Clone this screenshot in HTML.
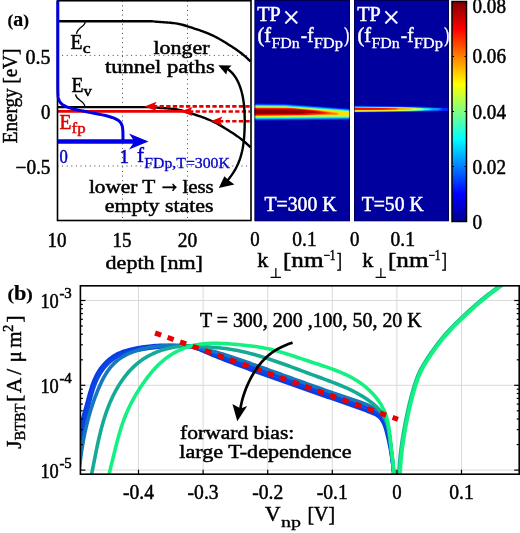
<!DOCTYPE html>
<html><head><meta charset="utf-8"><title>Figure</title>
<style>html,body{margin:0;padding:0;background:#fff}body{width:520px;height:533px;overflow:hidden}</style>
</head><body><svg width="520" height="533" viewBox="0 0 520 533" font-family='"Liberation Serif", "DejaVu Serif", serif' style="display:block"><rect x="0" y="0" width="520" height="533" fill="#fff"/>
<line x1="122.5" y1="0.75" x2="122.5" y2="220.5" stroke="#444" stroke-width="1" stroke-dasharray="1 3.6"/>
<line x1="187.5" y1="0.75" x2="187.5" y2="220.5" stroke="#444" stroke-width="1" stroke-dasharray="1 3.6"/>
<line x1="57.5" y1="55.4" x2="251" y2="55.4" stroke="#444" stroke-width="1" stroke-dasharray="1 3.6"/>
<line x1="57.5" y1="166.0" x2="251" y2="166.0" stroke="#444" stroke-width="1" stroke-dasharray="1 3.6"/>
<path d="M57.50,21.20 L150.00,21.20 L151.70,21.27 L153.41,21.42 L155.11,21.61 L156.81,21.78 L158.52,21.92 L160.22,22.05 L161.92,22.16 L163.63,22.27 L165.33,22.38 L167.03,22.50 L168.74,22.63 L170.44,22.77 L172.14,22.94 L173.85,23.14 L175.55,23.38 L177.25,23.65 L178.96,23.98 L180.66,24.35 L182.36,24.78 L184.07,25.26 L185.77,25.77 L187.47,26.30 L189.18,26.85 L190.88,27.42 L192.58,27.98 L194.29,28.53 L195.99,29.09 L197.69,29.64 L199.40,30.21 L201.10,30.78 L202.81,31.39 L204.51,32.01 L206.21,32.67 L207.92,33.37 L209.62,34.10 L211.32,34.86 L213.03,35.67 L214.73,36.51 L216.43,37.38 L218.14,38.30 L219.84,39.25 L221.54,40.23 L223.25,41.24 L224.95,42.27 L226.65,43.33 L228.36,44.40 L230.06,45.49 L231.76,46.58 L233.47,47.70 L235.17,48.83 L236.87,50.00 L238.58,51.21 L240.28,52.47 L241.98,53.79 L243.69,55.17 L245.39,56.62 L247.09,58.16 L248.80,59.78 L250.50,61.50" fill="none" stroke="#000" stroke-width="2.4"/>
<path d="M57.50,107.10 L150.00,107.10 L151.70,107.17 L153.41,107.32 L155.11,107.51 L156.81,107.68 L158.52,107.82 L160.22,107.95 L161.92,108.06 L163.63,108.17 L165.33,108.28 L167.03,108.40 L168.74,108.53 L170.44,108.67 L172.14,108.84 L173.85,109.04 L175.55,109.28 L177.25,109.55 L178.96,109.88 L180.66,110.25 L182.36,110.68 L184.07,111.16 L185.77,111.67 L187.47,112.20 L189.18,112.75 L190.88,113.32 L192.58,113.88 L194.29,114.43 L195.99,114.99 L197.69,115.54 L199.40,116.11 L201.10,116.68 L202.81,117.29 L204.51,117.91 L206.21,118.57 L207.92,119.27 L209.62,120.00 L211.32,120.76 L213.03,121.57 L214.73,122.41 L216.43,123.28 L218.14,124.20 L219.84,125.15 L221.54,126.13 L223.25,127.14 L224.95,128.17 L226.65,129.23 L228.36,130.30 L230.06,131.39 L231.76,132.48 L233.47,133.60 L235.17,134.73 L236.87,135.90 L238.58,137.11 L240.28,138.37 L241.98,139.69 L243.69,141.07 L245.39,142.52 L247.09,144.06 L248.80,145.68 L250.50,147.40" fill="none" stroke="#000" stroke-width="2.4"/>
<path d="M85.3,21.5 C85.3,27 77.5,27 76.5,33.8" fill="none" stroke="#000" stroke-width="1.3"/>
<path d="M75.5,94.3 C76.5,101 84,100 85,106.8" fill="none" stroke="#000" stroke-width="1.3"/>
<line x1="57.5" y1="111.3" x2="186" y2="111.3" stroke="#e60000" stroke-width="2.8"/>
<line x1="153" y1="106.4" x2="250" y2="106.4" stroke="#e60000" stroke-width="2.6" stroke-dasharray="4.3 2.3"/>
<path d="M144.5,106.4 L156.5,101.80000000000001 L154,106.4 L156.5,111.0 Z" fill="#e60000"/>
<line x1="189" y1="111.5" x2="250" y2="111.5" stroke="#e60000" stroke-width="2.6" stroke-dasharray="4.3 2.3"/>
<path d="M180.5,111.5 L192.5,106.9 L190,111.5 L192.5,116.1 Z" fill="#e60000"/>
<line x1="219" y1="121.2" x2="250" y2="121.2" stroke="#e60000" stroke-width="2.6" stroke-dasharray="4.3 2.3"/>
<path d="M210.5,121.2 L222.5,116.60000000000001 L220,121.2 L222.5,125.8 Z" fill="#e60000"/>
<rect x="57.5" y="0.75" width="193.5" height="219.75" fill="none" stroke="#000" stroke-width="1.6"/>
<path d="M57.80,0.75 L57.80,1.46 L57.80,2.16 L57.80,2.87 L57.80,3.58 L57.80,4.29 L57.80,4.99 L57.80,5.70 L57.80,6.41 L57.80,7.12 L57.80,7.82 L57.80,8.53 L57.80,9.24 L57.80,9.94 L57.80,10.65 L57.80,11.36 L57.80,12.07 L57.80,12.77 L57.80,13.48 L57.80,14.19 L57.80,14.90 L57.80,15.60 L57.80,16.31 L57.80,17.02 L57.80,17.72 L57.80,18.43 L57.80,19.14 L57.80,19.85 L57.80,20.55 L57.80,21.26 L57.80,21.97 L57.80,22.68 L57.80,23.38 L57.80,24.09 L57.80,24.80 L57.80,25.51 L57.80,26.21 L57.80,26.92 L57.80,27.63 L57.80,28.33 L57.80,29.04 L57.80,29.75 L57.80,30.46 L57.80,31.16 L57.80,31.87 L57.80,32.58 L57.80,33.29 L57.80,33.99 L57.80,34.70 L57.80,35.41 L57.80,36.11 L57.80,36.82 L57.80,37.53 L57.80,38.24 L57.80,38.94 L57.80,39.65 L57.80,40.36 L57.80,41.07 L57.80,41.77 L57.80,42.48 L57.80,43.19 L57.80,43.89 L57.80,44.60 L57.80,45.31 L57.80,46.02 L57.80,46.72 L57.80,47.43 L57.80,48.14 L57.80,48.85 L57.80,49.55 L57.80,50.26 L57.80,50.97 L57.80,51.67 L57.80,52.38 L57.80,53.09 L57.80,53.80 L57.80,54.50 L57.80,55.21 L57.80,55.92 L57.80,56.63 L57.80,57.33 L57.80,58.04 L57.80,58.75 L57.80,59.45 L57.80,60.16 L57.80,60.87 L57.80,61.58 L57.80,62.28 L57.80,62.99 L57.80,63.70 L57.80,64.41 L57.80,65.11 L57.80,65.82 L57.80,66.53 L57.80,67.23 L57.80,67.94 L57.80,68.65 L57.80,69.36 L57.80,70.06 L57.80,70.77 L57.80,71.48 L57.80,72.19 L57.80,72.89 L57.80,73.60 L57.80,74.31 L57.80,75.02 L57.80,75.72 L57.80,76.43 L57.80,77.14 L57.80,77.84 L57.80,78.55 L57.80,79.26 L57.80,79.97 L57.80,80.67 L57.80,81.38 L57.80,82.09 L57.80,82.80 L57.81,83.50 L57.81,84.21 L57.81,84.92 L57.81,85.62 L57.81,86.33 L57.82,87.04 L57.82,87.75 L57.83,88.45 L57.84,89.16 L57.84,89.87 L57.86,90.58 L57.87,91.28 L57.89,91.99 L57.91,92.70 L57.94,93.40 L57.97,94.11 L58.02,94.82 L58.07,95.53 L58.14,96.23 L58.23,96.94 L58.34,97.65 L58.47,98.36 L58.64,99.06 L58.86,99.77 L59.12,100.48 L59.45,101.18 L59.86,101.89 L60.37,102.60 L60.99,103.31 L61.76,104.01 L62.70,104.72 L63.84,105.43 L65.22,106.14 L66.85,106.84 L68.78,107.55 L71.03,108.26 L73.59,108.96 L76.48,109.67 L79.67,110.38 L83.09,111.09 L86.70,111.79 L90.41,112.50 L94.11,113.21 L97.72,113.92 L101.15,114.62 L104.33,115.33 L107.21,116.04 L109.78,116.74 L112.02,117.45 L113.95,118.16 L115.59,118.87 L116.96,119.57 L118.10,120.28 L119.04,120.99 L119.81,121.70 L120.43,122.40 L120.94,123.11 L121.35,123.82 L121.68,124.53 L121.94,125.23 L122.16,125.94 L122.33,126.65 L122.46,127.35 L122.57,128.06 L122.66,128.77 L122.73,129.48 L122.78,130.18 L122.83,130.89 L122.86,131.60 L122.89,132.31 L122.91,133.01 L122.93,133.72 L122.94,134.43 L122.96,135.13 L122.97,135.84 L122.97,136.55 L122.98,137.26 L122.98,137.96 L122.99,138.67 L122.99,139.38 L122.99,140.09 L122.99,140.79 L122.99,141.50" fill="none" stroke="#0000e6" stroke-width="3" stroke-linejoin="round"/>
<line x1="57.5" y1="141.5" x2="136" y2="141.5" stroke="#0000e6" stroke-width="4.6"/>
<path d="M148.5,141.5 L129,133.5 L134.5,141.5 L129,149.5 Z" fill="#0000e6"/>
<path d="M226.02,67.95 L227.85,69.17 L229.54,70.49 L231.10,71.91 L232.54,73.42 L233.87,75.01 L235.08,76.67 L236.19,78.40 L237.20,80.19 L238.12,82.03 L238.96,83.91 L239.72,85.83 L240.41,87.78 L241.03,89.75 L241.59,91.74 L242.10,93.74 L242.55,95.76 L242.95,97.79 L243.30,99.83 L243.61,101.89 L243.87,103.95 L244.09,106.02 L244.27,108.10 L244.42,110.19 L244.53,112.28 L244.61,114.37 L244.67,116.47 L244.70,118.57 L244.71,120.67 L244.70,122.77 L244.67,124.87 L244.63,126.97 L244.57,129.06 L244.49,131.15 L244.39,133.24 L244.26,135.32 L244.11,137.39 L243.92,139.46 L243.70,141.52 L243.44,143.57 L243.15,145.61 L242.81,147.64 L242.42,149.66 L241.98,151.67 L241.49,153.66 L240.95,155.65 L240.35,157.61 L239.69,159.57 L238.97,161.50 L238.18,163.42 L237.32,165.32 L236.41,167.20 L235.43,169.05 L234.40,170.87 L233.30,172.66 L232.14,174.42 L230.93,176.13 L229.66,177.81 L228.34,179.44 L226.96,181.03" fill="none" stroke="#000" stroke-width="2.4"/>
<path d="M218.3,65.2 L231.6,65.4 L227.6,69.6 L226.2,74.6 Z" fill="#000"/>
<path d="M218.8,188 L224.4,176.2 L228.6,180.2 L234.4,184.4 Z" fill="#000"/>
<text x="7.5" y="26.4" font-size="20" fill="#000" textLength="21.5" lengthAdjust="spacingAndGlyphs" font-weight="bold" stroke="#000" stroke-width="0.2" ><tspan font-size="17.3">(</tspan>a<tspan font-size="17.3">)</tspan></text>
<text x="50.5" y="63.6" font-size="20.5" fill="#000" text-anchor="end" textLength="25" lengthAdjust="spacingAndGlyphs" stroke="#000" stroke-width="0.5" >0.5</text>
<text x="50.5" y="118.9" font-size="20.5" fill="#000" text-anchor="end" textLength="9.4" lengthAdjust="spacingAndGlyphs" stroke="#000" stroke-width="0.5" >0</text>
<text x="50.5" y="173.6" font-size="20.5" fill="#000" text-anchor="end" textLength="35" lengthAdjust="spacingAndGlyphs" stroke="#000" stroke-width="0.5" >−0.5</text>
<text transform="translate(17.4,96) rotate(-90)" font-size="20.5" text-anchor="middle" textLength="94.5" lengthAdjust="spacingAndGlyphs" stroke="#000" stroke-width="0.45">Energy [eV]</text>
<text x="70.6" y="49" font-size="20" fill="#000" textLength="12" lengthAdjust="spacingAndGlyphs" stroke="#000" stroke-width="0.5" >E</text>
<text x="82.8" y="53" font-size="15.5" fill="#000" textLength="7.8" lengthAdjust="spacingAndGlyphs" stroke="#000" stroke-width="0.5" >c</text>
<text x="71.5" y="91.5" font-size="20" fill="#000" textLength="12" lengthAdjust="spacingAndGlyphs" stroke="#000" stroke-width="0.5" >E</text>
<text x="83.4" y="95.6" font-size="15.5" fill="#000" textLength="8.4" lengthAdjust="spacingAndGlyphs" stroke="#000" stroke-width="0.5" >v</text>
<text x="59.6" y="129" font-size="20" fill="#e00000" textLength="12" lengthAdjust="spacingAndGlyphs" stroke="#e00000" stroke-width="0.5" >E</text>
<text x="71.6" y="133" font-size="15.5" fill="#e00000" textLength="14" lengthAdjust="spacingAndGlyphs" stroke="#e00000" stroke-width="0.5" >fp</text>
<text x="59.6" y="162.5" font-size="19" fill="#0000c8" textLength="8.3" lengthAdjust="spacingAndGlyphs" stroke="#0000c8" stroke-width="0.5" >0</text>
<text x="119.5" y="162.5" font-size="19" fill="#0000c8" stroke="#0000c8" stroke-width="0.5" >1</text>
<text x="137" y="162.3" font-size="20" fill="#0000c8" textLength="7" lengthAdjust="spacingAndGlyphs" stroke="#0000c8" stroke-width="0.5" >f</text>
<text x="144.3" y="167.7" font-size="15.3" fill="#0000c8" textLength="85.5" lengthAdjust="spacingAndGlyphs" stroke="#0000c8" stroke-width="0.3" >FDp,T=300K</text>
<text x="153.5" y="53.5" font-size="19" fill="#000" textLength="56" lengthAdjust="spacingAndGlyphs" stroke="#000" stroke-width="0.5" >longer</text>
<text x="104.9" y="73.1" font-size="19" fill="#000" textLength="109.8" lengthAdjust="spacingAndGlyphs" stroke="#000" stroke-width="0.5" >tunnel paths</text>
<text x="88.9" y="192.5" font-size="19" fill="#000" textLength="66.5" lengthAdjust="spacingAndGlyphs" stroke="#000" stroke-width="0.5" >lower T</text>
<text x="158" y="192.2" font-size="29" fill="#000" textLength="23" lengthAdjust="spacingAndGlyphs" stroke="#000" stroke-width="0.6" >→</text>
<text x="182.4" y="192.5" font-size="19" fill="#000" textLength="31.3" lengthAdjust="spacingAndGlyphs" stroke="#000" stroke-width="0.5" >less</text>
<text x="104.8" y="212.3" font-size="19" fill="#000" textLength="108.7" lengthAdjust="spacingAndGlyphs" stroke="#000" stroke-width="0.5" >empty states</text>
<text x="56.9" y="246.7" font-size="20.5" fill="#000" text-anchor="middle" textLength="19" lengthAdjust="spacingAndGlyphs" stroke="#000" stroke-width="0.5" >10</text>
<text x="121.9" y="246.7" font-size="20.5" fill="#000" text-anchor="middle" textLength="19" lengthAdjust="spacingAndGlyphs" stroke="#000" stroke-width="0.5" >15</text>
<text x="187.4" y="246.7" font-size="20.5" fill="#000" text-anchor="middle" textLength="19.5" lengthAdjust="spacingAndGlyphs" stroke="#000" stroke-width="0.5" >20</text>
<text x="105.6" y="268.7" font-size="19.5" fill="#000" textLength="97.3" lengthAdjust="spacingAndGlyphs" stroke="#000" stroke-width="0.5" >depth [nm]</text>
<defs>
<linearGradient id="jet" x1="0" y1="1" x2="0" y2="0">
<stop offset="0" stop-color="#000094"/>
<stop offset="0.125" stop-color="#0000ff"/>
<stop offset="0.375" stop-color="#00ffff"/>
<stop offset="0.625" stop-color="#ffff00"/>
<stop offset="0.875" stop-color="#ff0000"/>
<stop offset="1" stop-color="#800000"/>
</linearGradient>
<filter id="b1" x="-5%" y="-50%" width="110%" height="200%"><feGaussianBlur stdDeviation="1.3 0.6"/></filter>
<filter id="b2" x="-5%" y="-50%" width="110%" height="200%"><feGaussianBlur stdDeviation="1.5 0.6"/></filter>
<clipPath id="c1"><rect x="254.5" y="0" width="95.5" height="221"/></clipPath>
<clipPath id="c2"><rect x="354" y="0" width="95" height="221"/></clipPath>
</defs>
<rect x="254.5" y="0" width="95.5" height="221" fill="#00009e"/>
<rect x="354" y="0" width="95" height="221" fill="#00009e"/>
<g clip-path="url(#c1)"><g filter="url(#b1)">
<path d="M250.00,103.60 L285.00,103.90 L320.00,106.40 L352.00,108.90 L352.00,119.80 L250.00,120.60 Z" fill="#0030ff"/>
<path d="M250.00,104.80 L285.00,105.10 L320.00,107.60 L352.00,110.10 L352.00,118.60 L250.00,119.20 Z" fill="#00c0ff"/>
<path d="M250.00,105.60 L285.00,105.90 L320.00,108.40 L352.00,110.90 L352.00,117.50 L250.00,118.20 Z" fill="#40ffc0"/>
<path d="M250.00,106.30 L285.00,106.60 L320.00,109.10 L352.00,111.60 L352.00,116.50 L250.00,117.30 Z" fill="#c0ff40"/>
<path d="M250.00,106.90 L287.00,107.20 L321.00,109.90 L350.00,112.20 L350.00,115.50 L250.00,116.50 Z" fill="#ffe000"/>
<path d="M250.00,107.40 L290.00,107.80 L320.00,110.40 L338.00,112.90 L338.00,114.70 L250.00,115.90 Z" fill="#ff8000"/>
<path d="M250.00,107.90 L292.00,108.30 L318.00,110.80 L331.00,113.30 L306.00,115.00 L250.00,115.40 Z" fill="#ff1000"/>
<path d="M250.00,109.00 L298.00,109.50 L322.00,112.30 L298.00,114.10 L250.00,114.40 Z" fill="#a80000"/>
<path d="M250.00,110.00 L285.00,110.40 L306.00,112.20 L285.00,113.30 L250.00,113.50 Z" fill="#860000"/>
</g></g>
<g clip-path="url(#c2)"><g filter="url(#b2)">
<path d="M350.00,105.80 L420.00,106.50 L449.00,108.00 L449.00,110.70 L420.00,111.80 L350.00,112.40 Z" fill="#0028ff"/>
<path d="M350.00,106.40 L410.00,106.90 L440.00,108.30 L440.00,110.30 L410.00,111.40 L350.00,112.00 Z" fill="#00a0ff"/>
<path d="M350.00,106.80 L405.00,107.20 L430.00,108.50 L430.00,110.10 L405.00,111.10 L350.00,111.70 Z" fill="#20ffd0"/>
<path d="M350.00,107.10 L398.00,107.40 L422.00,108.60 L422.00,110.20 L398.00,111.00 L350.00,111.50 Z" fill="#e8ff40"/>
<path d="M350.00,107.40 L392.00,107.70 L412.00,108.60 L412.00,109.60 L392.00,110.20 L350.00,110.40 Z" fill="#ffb000"/>
<path d="M350.00,107.60 L382.00,107.90 L398.00,108.60 L398.00,109.30 L382.00,109.80 L350.00,110.00 Z" fill="#f00800"/>
</g></g>
<rect x="255" y="0.5" width="94.5" height="220.5" fill="none" stroke="#000020" stroke-width="1" opacity="0.6"/>
<rect x="354.5" y="0.5" width="94" height="220.5" fill="none" stroke="#000020" stroke-width="1" opacity="0.6"/>
<text x="257.3" y="21.3" font-size="21" fill="#fff" textLength="23.5" lengthAdjust="spacingAndGlyphs" stroke="#fff" stroke-width="0.5" >TP</text>
<text x="282.5" y="27.6" font-size="31" fill="#fff" stroke="#fff" stroke-width="0.3" >×</text>
<text x="257.4" y="42" font-size="21" fill="#fff" textLength="13.6" lengthAdjust="spacingAndGlyphs" stroke="#fff" stroke-width="0.5" >(f</text>
<text x="271.4" y="48.2" font-size="15" fill="#fff" textLength="28.3" lengthAdjust="spacingAndGlyphs" stroke="#fff" stroke-width="0.3" >FDn</text>
<text x="300.8" y="42" font-size="21" fill="#fff" textLength="12.7" lengthAdjust="spacingAndGlyphs" stroke="#fff" stroke-width="0.5" >-f</text>
<text x="313.7" y="48.2" font-size="15" fill="#fff" textLength="29.3" lengthAdjust="spacingAndGlyphs" stroke="#fff" stroke-width="0.3" >FDp</text>
<text x="344.3" y="42" font-size="21" fill="#fff" textLength="5" lengthAdjust="spacingAndGlyphs" stroke="#fff" stroke-width="0.5" >)</text>
<text x="357.3" y="21.3" font-size="21" fill="#fff" textLength="23.5" lengthAdjust="spacingAndGlyphs" stroke="#fff" stroke-width="0.5" >TP</text>
<text x="382.5" y="27.6" font-size="31" fill="#fff" stroke="#fff" stroke-width="0.3" >×</text>
<text x="357.4" y="42" font-size="21" fill="#fff" textLength="13.6" lengthAdjust="spacingAndGlyphs" stroke="#fff" stroke-width="0.5" >(f</text>
<text x="371.4" y="48.2" font-size="15" fill="#fff" textLength="28.3" lengthAdjust="spacingAndGlyphs" stroke="#fff" stroke-width="0.3" >FDn</text>
<text x="400.8" y="42" font-size="21" fill="#fff" textLength="12.7" lengthAdjust="spacingAndGlyphs" stroke="#fff" stroke-width="0.5" >-f</text>
<text x="413.7" y="48.2" font-size="15" fill="#fff" textLength="29.3" lengthAdjust="spacingAndGlyphs" stroke="#fff" stroke-width="0.3" >FDp</text>
<text x="444.3" y="42" font-size="21" fill="#fff" textLength="5" lengthAdjust="spacingAndGlyphs" stroke="#fff" stroke-width="0.5" >)</text>
<text x="264.6" y="211" font-size="20" fill="#fff" textLength="71.8" lengthAdjust="spacingAndGlyphs" stroke="#fff" stroke-width="0.5" >T=300 K</text>
<text x="361.7" y="211" font-size="20" fill="#fff" textLength="62" lengthAdjust="spacingAndGlyphs" stroke="#fff" stroke-width="0.5" >T=50 K</text>
<text x="254.9" y="246.2" font-size="20.5" fill="#000" text-anchor="middle" textLength="9.4" lengthAdjust="spacingAndGlyphs" stroke="#000" stroke-width="0.5" >0</text>
<text x="304.5" y="246.2" font-size="20.5" fill="#000" text-anchor="middle" textLength="24.3" lengthAdjust="spacingAndGlyphs" stroke="#000" stroke-width="0.5" >0.1</text>
<text x="354.6" y="246.2" font-size="20.5" fill="#000" text-anchor="middle" textLength="9.4" lengthAdjust="spacingAndGlyphs" stroke="#000" stroke-width="0.5" >0</text>
<text x="402.7" y="246.2" font-size="20.5" fill="#000" text-anchor="middle" textLength="24.3" lengthAdjust="spacingAndGlyphs" stroke="#000" stroke-width="0.5" >0.1</text>
<text x="257.3" y="266.7" font-size="20" fill="#000" textLength="11" lengthAdjust="spacingAndGlyphs" stroke="#000" stroke-width="0.5" >k</text>
<text x="269" y="277.5" font-size="14" fill="#000" stroke="#000" stroke-width="0.2" >⊥</text>
<text x="283" y="266.7" font-size="20" fill="#000" textLength="40.5" lengthAdjust="spacingAndGlyphs" stroke="#000" stroke-width="0.5" >[nm</text>
<text x="323.5" y="259.5" font-size="14.5" fill="#000" textLength="12" lengthAdjust="spacingAndGlyphs" stroke="#000" stroke-width="0.5" >−1</text>
<text x="336.8" y="266.7" font-size="20" fill="#000" textLength="5.2" lengthAdjust="spacingAndGlyphs" stroke="#000" stroke-width="0.5" >]</text>
<text x="362.3" y="266.7" font-size="20" fill="#000" textLength="11" lengthAdjust="spacingAndGlyphs" stroke="#000" stroke-width="0.5" >k</text>
<text x="374" y="277.5" font-size="14" fill="#000" stroke="#000" stroke-width="0.2" >⊥</text>
<text x="388" y="266.7" font-size="20" fill="#000" textLength="40.5" lengthAdjust="spacingAndGlyphs" stroke="#000" stroke-width="0.5" >[nm</text>
<text x="428.5" y="259.5" font-size="14.5" fill="#000" textLength="12" lengthAdjust="spacingAndGlyphs" stroke="#000" stroke-width="0.5" >−1</text>
<text x="441.8" y="266.7" font-size="20" fill="#000" textLength="5.2" lengthAdjust="spacingAndGlyphs" stroke="#000" stroke-width="0.5" >]</text>
<rect x="452" y="1.5" width="14.5" height="220" fill="url(#jet)" stroke="#000" stroke-width="1.5"/>
<line x1="452" y1="56.5" x2="454" y2="56.5" stroke="#000" stroke-width="1"/><line x1="464.5" y1="56.5" x2="466.5" y2="56.5" stroke="#000" stroke-width="1"/>
<line x1="452" y1="111.5" x2="454" y2="111.5" stroke="#000" stroke-width="1"/><line x1="464.5" y1="111.5" x2="466.5" y2="111.5" stroke="#000" stroke-width="1"/>
<line x1="452" y1="166.5" x2="454" y2="166.5" stroke="#000" stroke-width="1"/><line x1="464.5" y1="166.5" x2="466.5" y2="166.5" stroke="#000" stroke-width="1"/>
<text x="472.5" y="13.3" font-size="20.5" fill="#000" textLength="33.5" lengthAdjust="spacingAndGlyphs" stroke="#000" stroke-width="0.5" >0.08</text>
<text x="472.5" y="63.3" font-size="20.5" fill="#000" textLength="33.5" lengthAdjust="spacingAndGlyphs" stroke="#000" stroke-width="0.5" >0.06</text>
<text x="472.5" y="119.4" font-size="20.5" fill="#000" textLength="33.5" lengthAdjust="spacingAndGlyphs" stroke="#000" stroke-width="0.5" >0.04</text>
<text x="472.5" y="174.3" font-size="20.5" fill="#000" textLength="33.5" lengthAdjust="spacingAndGlyphs" stroke="#000" stroke-width="0.5" >0.02</text>
<text x="472.5" y="228.8" font-size="20.5" fill="#000" textLength="9.6" lengthAdjust="spacingAndGlyphs" stroke="#000" stroke-width="0.5" >0</text>
<line x1="138.5" y1="285.8" x2="138.5" y2="474.2" stroke="#dadada" stroke-width="1"/>
<line x1="203.1" y1="285.8" x2="203.1" y2="474.2" stroke="#dadada" stroke-width="1"/>
<line x1="267.7" y1="285.8" x2="267.7" y2="474.2" stroke="#dadada" stroke-width="1"/>
<line x1="332.3" y1="285.8" x2="332.3" y2="474.2" stroke="#dadada" stroke-width="1"/>
<line x1="396.9" y1="285.8" x2="396.9" y2="474.2" stroke="#dadada" stroke-width="1"/>
<line x1="461.5" y1="285.8" x2="461.5" y2="474.2" stroke="#dadada" stroke-width="1"/>
<line x1="80.4" y1="300.5" x2="519.2" y2="300.5" stroke="#dadada" stroke-width="1"/>
<line x1="80.4" y1="385.3" x2="519.2" y2="385.3" stroke="#dadada" stroke-width="1"/>
<line x1="80.4" y1="470.1" x2="519.2" y2="470.1" stroke="#dadada" stroke-width="1"/>
<clipPath id="cb"><rect x="80.4" y="285.8" width="438.80000000000007" height="188.39999999999998"/></clipPath>
<g clip-path="url(#cb)" fill="none" stroke-width="3.6" stroke-linecap="round" stroke-linejoin="round">
<path d="M77.86,448.84 L78.22,446.65 L78.54,444.45 L78.84,442.22 L79.12,439.99 L79.40,437.75 L79.68,435.51 L79.97,433.27 L80.28,431.03 L80.62,428.81 L80.99,426.59 L81.41,424.40 L81.88,422.22 L82.39,420.05 L82.94,417.90 L83.51,415.75 L84.11,413.61 L84.71,411.46 L85.32,409.32 L85.92,407.16 L86.52,404.99 L87.10,402.81 L87.68,400.62 L88.26,398.43 L88.85,396.24 L89.46,394.06 L90.08,391.88 L90.73,389.71 L91.42,387.56 L92.14,385.43 L92.90,383.31 L93.71,381.23 L94.58,379.17 L95.51,377.14 L96.51,375.15 L97.58,373.19 L98.73,371.28 L99.96,369.42 L101.27,367.60 L102.67,365.85 L104.15,364.15 L105.70,362.52 L107.32,360.97 L109.01,359.49 L110.77,358.09 L112.59,356.79 L114.47,355.58 L116.41,354.47 L118.40,353.47 L120.43,352.56 L122.51,351.75 L124.62,351.02 L126.77,350.36 L128.94,349.76 L131.12,349.22 L133.32,348.73 L135.53,348.27 L137.74,347.85 L139.95,347.46 L142.17,347.10 L144.39,346.78 L146.61,346.48 L148.84,346.22 L151.06,345.99 L153.29,345.79 L155.53,345.62 L157.76,345.48 L160.00,345.37 L162.24,345.28 L164.48,345.23 L166.72,345.20 L168.96,345.21 L171.20,345.24 L173.44,345.29 L175.69,345.38 L177.93,345.48 L180.17,345.62 L182.42,345.78 L184.66,345.96 L186.90,346.18 L189.13,346.45 L191.34,346.81 L193.50,347.31 L195.63,347.96 L197.72,348.73 L199.78,349.59 L201.83,350.49 L203.88,351.41 L205.94,352.33 L208.00,353.22 L210.06,354.10 L212.13,354.97 L214.21,355.82 L216.29,356.66 L218.37,357.50 L220.46,358.32 L222.55,359.14 L224.64,359.95 L226.73,360.76 L228.83,361.56 L230.92,362.36 L233.02,363.15 L235.11,363.95 L237.21,364.74 L239.31,365.53 L241.41,366.32 L243.51,367.10 L245.61,367.88 L247.71,368.66 L249.81,369.44 L251.91,370.22 L254.01,370.99 L256.12,371.76 L258.22,372.53 L260.33,373.30 L262.43,374.06 L264.54,374.83 L266.64,375.59 L268.75,376.35 L270.86,377.11 L272.97,377.86 L275.08,378.62 L277.19,379.37 L279.30,380.13 L281.41,380.88 L283.52,381.63 L285.63,382.38 L287.74,383.12 L289.85,383.87 L291.97,384.62 L294.08,385.36 L296.20,386.10 L298.31,386.85 L300.43,387.59 L302.54,388.33 L304.66,389.07 L306.77,389.81 L308.89,390.55 L311.01,391.29 L313.13,392.03 L315.24,392.76 L317.36,393.50 L319.48,394.24 L321.60,394.98 L323.72,395.71 L325.84,396.45 L327.96,397.19 L330.08,397.92 L332.20,398.66 L334.32,399.40 L336.45,400.13 L338.57,400.87 L340.69,401.61 L342.81,402.35 L344.94,403.09 L347.06,403.83 L349.18,404.57 L351.31,405.31 L353.43,406.05 L355.55,406.80 L357.67,407.55 L359.78,408.31 L361.89,409.08 L364.00,409.86 L366.09,410.66 L368.19,411.46 L370.27,412.28 L372.35,413.12 L374.40,413.99 L376.36,414.97 L378.15,416.12 L379.73,417.51 L381.11,419.10 L382.31,420.88 L383.36,422.81 L384.27,424.86 L385.07,427.00 L385.78,429.21 L386.41,431.46 L386.99,433.72 L387.55,435.97 L388.07,438.19 L388.58,440.40 L389.05,442.60 L389.51,444.78 L389.95,446.96 L390.36,449.14 L390.76,451.32 L391.14,453.50 L391.51,455.69 L391.86,457.89 L392.19,460.10 L392.51,462.32 L392.80,464.56 L393.07,466.79 L393.30,469.04 L393.50,471.28 L393.65,473.52 L393.75,475.76 L393.80,478.00" stroke="#0a3ce6"/>
<path d="M80.22,449.19 L80.38,446.91 L80.59,444.65 L80.84,442.40 L81.12,440.17 L81.44,437.95 L81.79,435.75 L82.17,433.55 L82.58,431.37 L83.01,429.19 L83.46,427.02 L83.94,424.85 L84.43,422.69 L84.94,420.53 L85.46,418.36 L86.00,416.20 L86.53,414.04 L87.08,411.87 L87.63,409.69 L88.18,407.51 L88.72,405.32 L89.27,403.12 L89.83,400.93 L90.40,398.73 L90.99,396.54 L91.60,394.35 L92.24,392.18 L92.91,390.02 L93.62,387.88 L94.37,385.75 L95.17,383.66 L96.02,381.59 L96.93,379.55 L97.90,377.54 L98.94,375.58 L100.05,373.65 L101.23,371.76 L102.50,369.93 L103.84,368.15 L105.27,366.42 L106.77,364.77 L108.35,363.18 L110.00,361.68 L111.72,360.26 L113.50,358.94 L115.36,357.71 L117.28,356.59 L119.27,355.57 L121.31,354.67 L123.41,353.86 L125.54,353.13 L127.70,352.48 L129.89,351.90 L132.09,351.37 L134.30,350.88 L136.50,350.43 L138.71,350.00 L140.91,349.61 L143.11,349.24 L145.31,348.90 L147.51,348.58 L149.71,348.27 L151.91,347.99 L154.12,347.72 L156.33,347.46 L158.55,347.22 L160.78,346.98 L163.01,346.76 L165.25,346.53 L167.50,346.32 L169.75,346.11 L172.01,345.94 L174.27,345.79 L176.53,345.69 L178.78,345.64 L181.03,345.65 L183.26,345.74 L185.48,345.90 L187.69,346.15 L189.88,346.48 L192.06,346.89 L194.22,347.36 L196.38,347.89 L198.52,348.48 L200.66,349.11 L202.79,349.79 L204.91,350.50 L207.04,351.23 L209.15,351.98 L211.27,352.75 L213.38,353.52 L215.50,354.30 L217.62,355.06 L219.73,355.82 L221.86,356.57 L223.98,357.32 L226.10,358.06 L228.22,358.79 L230.35,359.53 L232.47,360.26 L234.59,360.99 L236.71,361.72 L238.83,362.45 L240.95,363.18 L243.07,363.92 L245.19,364.65 L247.30,365.39 L249.41,366.13 L251.52,366.88 L253.64,367.62 L255.74,368.37 L257.85,369.12 L259.96,369.87 L262.07,370.62 L264.17,371.38 L266.28,372.13 L268.38,372.89 L270.48,373.64 L272.59,374.40 L274.69,375.16 L276.79,375.92 L278.89,376.68 L280.99,377.44 L283.10,378.20 L285.20,378.96 L287.30,379.72 L289.40,380.48 L291.50,381.24 L293.60,382.00 L295.71,382.76 L297.81,383.52 L299.91,384.28 L302.02,385.04 L304.12,385.80 L306.23,386.56 L308.33,387.31 L310.44,388.07 L312.55,388.83 L314.66,389.58 L316.77,390.33 L318.88,391.08 L320.99,391.83 L323.10,392.58 L325.22,393.32 L327.34,394.07 L329.45,394.81 L331.57,395.55 L333.70,396.29 L335.82,397.02 L337.95,397.75 L340.07,398.48 L342.20,399.21 L344.34,399.94 L346.47,400.66 L348.61,401.38 L350.75,402.10 L352.89,402.81 L355.03,403.52 L357.18,404.22 L359.33,404.93 L361.48,405.63 L363.63,406.33 L365.77,407.06 L367.89,407.81 L369.97,408.62 L372.02,409.49 L374.02,410.43 L375.95,411.47 L377.82,412.62 L379.58,413.89 L381.18,415.31 L382.61,416.90 L383.84,418.64 L384.92,420.52 L385.84,422.51 L386.64,424.60 L387.32,426.75 L387.91,428.96 L388.42,431.19 L388.88,433.43 L389.29,435.67 L389.65,437.91 L389.98,440.15 L390.29,442.38 L390.57,444.62 L390.83,446.85 L391.08,449.08 L391.32,451.30 L391.57,453.53 L391.82,455.75 L392.08,457.96 L392.36,460.17 L392.65,462.39 L392.93,464.60 L393.20,466.81 L393.44,469.03 L393.64,471.26 L393.79,473.49 L393.88,475.74 L393.89,478.01" stroke="#0a46e4"/>
<path d="M79.08,472.02 L79.31,469.68 L79.55,467.35 L79.80,465.01 L80.07,462.68 L80.35,460.35 L80.65,458.02 L80.96,455.70 L81.28,453.38 L81.62,451.06 L81.98,448.75 L82.35,446.44 L82.74,444.14 L83.14,441.83 L83.57,439.53 L84.01,437.24 L84.46,434.95 L84.94,432.66 L85.43,430.38 L85.94,428.10 L86.47,425.83 L87.02,423.56 L87.60,421.30 L88.19,419.04 L88.80,416.78 L89.43,414.53 L90.08,412.29 L90.76,410.05 L91.45,407.82 L92.17,405.59 L92.92,403.37 L93.68,401.15 L94.47,398.94 L95.28,396.73 L96.12,394.53 L96.98,392.34 L97.86,390.15 L98.77,387.97 L99.71,385.81 L100.69,383.65 L101.70,381.52 L102.75,379.42 L103.85,377.35 L105.00,375.32 L106.21,373.33 L107.48,371.39 L108.82,369.50 L110.22,367.68 L111.70,365.92 L113.26,364.23 L114.90,362.62 L116.63,361.09 L118.45,359.64 L120.35,358.28 L122.33,357.01 L124.38,355.82 L126.48,354.71 L128.63,353.67 L130.82,352.71 L133.04,351.83 L135.27,351.01 L137.52,350.27 L139.77,349.59 L142.04,348.97 L144.31,348.42 L146.60,347.92 L148.89,347.49 L151.18,347.10 L153.49,346.77 L155.80,346.48 L158.12,346.24 L160.44,346.05 L162.77,345.90 L165.10,345.78 L167.43,345.71 L169.77,345.66 L172.12,345.65 L174.46,345.68 L176.80,345.73 L179.15,345.83 L181.49,345.95 L183.83,346.12 L186.16,346.32 L188.49,346.55 L190.82,346.83 L193.13,347.14 L195.45,347.49 L197.75,347.88 L200.04,348.30 L202.33,348.76 L204.61,349.24 L206.89,349.76 L209.16,350.31 L211.42,350.88 L213.68,351.48 L215.94,352.10 L218.19,352.74 L220.43,353.41 L222.67,354.09 L224.91,354.78 L227.14,355.50 L229.37,356.22 L231.60,356.95 L233.82,357.70 L236.04,358.45 L238.26,359.21 L240.48,359.97 L242.70,360.74 L244.91,361.51 L247.12,362.28 L249.34,363.05 L251.55,363.83 L253.76,364.60 L255.97,365.38 L258.17,366.17 L260.38,366.95 L262.59,367.73 L264.79,368.52 L266.99,369.31 L269.20,370.10 L271.40,370.89 L273.60,371.68 L275.81,372.47 L278.01,373.27 L280.21,374.06 L282.41,374.85 L284.61,375.65 L286.81,376.44 L289.01,377.24 L291.21,378.03 L293.41,378.83 L295.61,379.62 L297.81,380.41 L300.01,381.21 L302.22,382.00 L304.42,382.79 L306.62,383.58 L308.82,384.37 L311.03,385.15 L313.23,385.94 L315.44,386.73 L317.64,387.51 L319.85,388.29 L322.06,389.07 L324.27,389.84 L326.48,390.62 L328.69,391.39 L330.90,392.16 L333.11,392.93 L335.33,393.69 L337.54,394.45 L339.76,395.21 L341.98,395.97 L344.20,396.72 L346.42,397.47 L348.65,398.21 L350.87,398.95 L353.10,399.70 L355.32,400.45 L357.54,401.22 L359.76,402.00 L361.96,402.81 L364.16,403.65 L366.34,404.53 L368.51,405.44 L370.67,406.40 L372.81,407.41 L374.91,408.49 L376.93,409.67 L378.82,410.98 L380.53,412.47 L382.04,414.15 L383.36,415.99 L384.52,417.96 L385.52,420.05 L386.38,422.24 L387.13,424.49 L387.77,426.78 L388.32,429.09 L388.81,431.41 L389.22,433.74 L389.59,436.07 L389.90,438.40 L390.18,440.74 L390.43,443.08 L390.65,445.41 L390.87,447.75 L391.08,450.08 L391.30,452.42 L391.53,454.74 L391.79,457.07 L392.07,459.38 L392.39,461.70 L392.71,464.01 L393.02,466.32 L393.31,468.64 L393.55,470.96 L393.74,473.29 L393.85,475.64 L393.87,478.01" stroke="#1478c0"/>
<path d="M90.78,477.98 L91.26,475.73 L91.73,473.48 L92.20,471.22 L92.66,468.97 L93.11,466.72 L93.56,464.46 L94.00,462.21 L94.45,459.96 L94.89,457.70 L95.34,455.45 L95.79,453.20 L96.24,450.95 L96.70,448.71 L97.17,446.46 L97.65,444.22 L98.13,441.98 L98.62,439.75 L99.13,437.52 L99.65,435.29 L100.19,433.07 L100.74,430.85 L101.31,428.64 L101.90,426.43 L102.51,424.23 L103.14,422.04 L103.79,419.85 L104.46,417.67 L105.17,415.50 L105.89,413.33 L106.65,411.18 L107.44,409.03 L108.25,406.89 L109.10,404.76 L109.98,402.64 L110.90,400.52 L111.85,398.42 L112.84,396.33 L113.87,394.26 L114.93,392.20 L116.04,390.16 L117.18,388.14 L118.36,386.14 L119.58,384.17 L120.84,382.22 L122.14,380.31 L123.48,378.43 L124.86,376.59 L126.28,374.78 L127.75,373.02 L129.25,371.29 L130.81,369.62 L132.40,367.98 L134.04,366.40 L135.72,364.87 L137.45,363.40 L139.22,361.98 L141.04,360.62 L142.90,359.33 L144.80,358.09 L146.75,356.92 L148.74,355.80 L150.76,354.75 L152.81,353.75 L154.90,352.81 L157.02,351.94 L159.16,351.12 L161.34,350.36 L163.53,349.66 L165.74,349.02 L167.98,348.44 L170.23,347.91 L172.49,347.44 L174.77,347.03 L177.06,346.67 L179.36,346.37 L181.66,346.13 L183.96,345.95 L186.27,345.82 L188.57,345.74 L190.87,345.72 L193.17,345.76 L195.46,345.85 L197.74,345.98 L200.02,346.15 L202.29,346.35 L204.56,346.56 L206.84,346.78 L209.11,347.01 L211.39,347.22 L213.66,347.42 L215.94,347.62 L218.22,347.82 L220.51,348.04 L222.79,348.27 L225.06,348.54 L227.34,348.83 L229.61,349.16 L231.88,349.52 L234.15,349.91 L236.41,350.33 L238.66,350.78 L240.92,351.25 L243.16,351.75 L245.40,352.27 L247.64,352.81 L249.87,353.38 L252.09,353.96 L254.31,354.57 L256.52,355.19 L258.72,355.83 L260.92,356.48 L263.10,357.15 L265.29,357.83 L267.46,358.53 L269.64,359.24 L271.80,359.96 L273.97,360.69 L276.13,361.43 L278.28,362.18 L280.44,362.94 L282.59,363.71 L284.74,364.48 L286.88,365.27 L289.03,366.05 L291.17,366.85 L293.32,367.64 L295.46,368.44 L297.60,369.25 L299.75,370.05 L301.90,370.86 L304.04,371.66 L306.19,372.47 L308.34,373.27 L310.50,374.08 L312.65,374.88 L314.82,375.68 L316.98,376.47 L319.15,377.26 L321.32,378.05 L323.49,378.85 L325.65,379.64 L327.82,380.45 L329.98,381.25 L332.14,382.07 L334.30,382.90 L336.44,383.75 L338.58,384.61 L340.71,385.48 L342.83,386.38 L344.94,387.29 L347.03,388.23 L349.11,389.20 L351.18,390.19 L353.23,391.21 L355.26,392.26 L357.27,393.34 L359.27,394.46 L361.24,395.61 L363.19,396.80 L365.11,398.04 L367.01,399.31 L368.89,400.63 L370.74,402.00 L372.56,403.41 L374.34,404.88 L376.06,406.40 L377.72,407.98 L379.29,409.63 L380.76,411.34 L382.12,413.13 L383.35,415.00 L384.43,416.95 L385.38,418.98 L386.19,421.08 L386.88,423.24 L387.48,425.45 L387.99,427.71 L388.44,429.99 L388.82,432.30 L389.17,434.62 L389.50,436.94 L389.82,439.25 L390.13,441.56 L390.44,443.85 L390.75,446.14 L391.05,448.41 L391.34,450.69 L391.63,452.96 L391.91,455.22 L392.18,457.49 L392.44,459.75 L392.69,462.01 L392.92,464.28 L393.15,466.55 L393.36,468.83 L393.55,471.11 L393.73,473.40 L393.89,475.69 L394.04,478.00" stroke="#14aa96"/>
<path d="M108.36,477.97 L108.81,475.78 L109.27,473.60 L109.76,471.43 L110.26,469.25 L110.77,467.08 L111.30,464.91 L111.84,462.74 L112.38,460.57 L112.92,458.40 L113.46,456.23 L114.00,454.06 L114.54,451.88 L115.08,449.70 L115.63,447.53 L116.18,445.36 L116.74,443.18 L117.31,441.02 L117.89,438.85 L118.48,436.69 L119.09,434.53 L119.71,432.38 L120.36,430.24 L121.02,428.11 L121.71,425.98 L122.42,423.86 L123.16,421.75 L123.93,419.65 L124.72,417.57 L125.55,415.49 L126.41,413.43 L127.30,411.38 L128.21,409.34 L129.16,407.32 L130.14,405.31 L131.14,403.31 L132.17,401.32 L133.23,399.35 L134.31,397.39 L135.43,395.45 L136.56,393.52 L137.73,391.60 L138.91,389.70 L140.12,387.82 L141.36,385.95 L142.62,384.09 L143.90,382.25 L145.20,380.43 L146.53,378.62 L147.88,376.83 L149.25,375.06 L150.65,373.32 L152.09,371.60 L153.55,369.91 L155.06,368.26 L156.60,366.63 L158.18,365.05 L159.80,363.51 L161.46,362.02 L163.17,360.57 L164.92,359.16 L166.71,357.81 L168.54,356.51 L170.40,355.26 L172.30,354.06 L174.23,352.92 L176.20,351.84 L178.19,350.82 L180.21,349.87 L182.26,348.98 L184.34,348.16 L186.44,347.41 L188.55,346.73 L190.69,346.12 L192.84,345.57 L195.00,345.09 L197.18,344.68 L199.37,344.32 L201.57,344.03 L203.77,343.78 L205.99,343.59 L208.22,343.45 L210.45,343.35 L212.69,343.29 L214.93,343.28 L217.18,343.30 L219.43,343.35 L221.69,343.43 L223.94,343.54 L226.20,343.67 L228.46,343.82 L230.72,343.99 L232.98,344.17 L235.23,344.37 L237.48,344.57 L239.73,344.78 L241.98,344.99 L244.21,345.21 L246.45,345.44 L248.68,345.68 L250.90,345.93 L253.11,346.20 L255.32,346.50 L257.53,346.82 L259.72,347.16 L261.91,347.54 L264.09,347.95 L266.27,348.39 L268.44,348.86 L270.60,349.36 L272.76,349.89 L274.91,350.44 L277.06,351.02 L279.20,351.62 L281.34,352.24 L283.47,352.88 L285.61,353.53 L287.74,354.20 L289.87,354.88 L292.00,355.57 L294.12,356.27 L296.25,356.97 L298.38,357.69 L300.51,358.40 L302.64,359.12 L304.77,359.84 L306.90,360.55 L309.04,361.27 L311.18,361.97 L313.32,362.67 L315.47,363.37 L317.61,364.07 L319.76,364.77 L321.90,365.48 L324.04,366.19 L326.17,366.92 L328.29,367.65 L330.41,368.40 L332.52,369.17 L334.62,369.95 L336.71,370.76 L338.78,371.59 L340.84,372.45 L342.89,373.33 L344.92,374.25 L346.93,375.20 L348.92,376.19 L350.89,377.22 L352.84,378.29 L354.76,379.40 L356.66,380.55 L358.54,381.76 L360.38,383.02 L362.20,384.32 L363.99,385.69 L365.74,387.10 L367.45,388.57 L369.13,390.08 L370.75,391.64 L372.33,393.25 L373.85,394.91 L375.32,396.61 L376.73,398.36 L378.07,400.15 L379.35,401.98 L380.56,403.86 L381.69,405.77 L382.74,407.72 L383.72,409.70 L384.60,411.73 L385.40,413.79 L386.12,415.88 L386.76,418.00 L387.33,420.14 L387.84,422.31 L388.29,424.50 L388.69,426.71 L389.04,428.94 L389.36,431.17 L389.65,433.41 L389.92,435.66 L390.16,437.92 L390.40,440.17 L390.64,442.42 L390.88,444.66 L391.12,446.90 L391.38,449.12 L391.65,451.34 L391.93,453.55 L392.20,455.76 L392.47,457.97 L392.73,460.17 L392.98,462.38 L393.21,464.58 L393.42,466.80 L393.60,469.02 L393.76,471.25 L393.88,473.49 L393.96,475.74 L394.01,478.01" stroke="#14f082"/>
<path d="M399.02,478.01 L399.08,475.60 L399.16,473.20 L399.26,470.80 L399.39,468.40 L399.54,466.01 L399.72,463.62 L399.91,461.23 L400.13,458.85 L400.36,456.47 L400.62,454.09 L400.89,451.72 L401.18,449.34 L401.49,446.97 L401.81,444.60 L402.15,442.24 L402.51,439.87 L402.88,437.51 L403.27,435.14 L403.66,432.78 L404.07,430.42 L404.49,428.07 L404.93,425.71 L405.37,423.35 L405.83,421.00 L406.30,418.65 L406.79,416.30 L407.28,413.95 L407.79,411.61 L408.32,409.27 L408.85,406.93 L409.41,404.59 L409.97,402.26 L410.56,399.93 L411.15,397.61 L411.76,395.29 L412.39,392.98 L413.03,390.67 L413.70,388.36 L414.39,386.07 L415.11,383.79 L415.87,381.53 L416.67,379.28 L417.52,377.06 L418.42,374.86 L419.38,372.69 L420.41,370.54 L421.50,368.43 L422.65,366.34 L423.85,364.28 L425.09,362.24 L426.38,360.22 L427.69,358.21 L429.03,356.22 L430.38,354.24 L431.75,352.26 L433.13,350.29 L434.52,348.33 L435.93,346.39 L437.36,344.46 L438.81,342.55 L440.29,340.66 L441.79,338.79 L443.31,336.95 L444.86,335.13 L446.44,333.34 L448.04,331.57 L449.67,329.82 L451.32,328.09 L452.99,326.38 L454.67,324.69 L456.37,323.00 L458.08,321.33 L459.80,319.67 L461.54,318.02 L463.27,316.37 L465.02,314.73 L466.77,313.09 L468.53,311.46 L470.29,309.84 L472.07,308.24 L473.86,306.64 L475.66,305.06 L477.47,303.49 L479.29,301.93 L481.12,300.40 L482.97,298.88 L484.84,297.38 L486.71,295.89 L488.60,294.42 L490.50,292.97 L492.40,291.52 L494.31,290.08 L496.23,288.65 L498.15,287.22 L500.07,285.79 L501.99,284.36 L503.91,282.92 L505.82,281.48 L507.73,280.03" stroke="#14b496" stroke-width="4"/>
<path d="M399.92,478.01 L399.98,475.60 L400.06,473.20 L400.16,470.80 L400.29,468.40 L400.44,466.01 L400.62,463.62 L400.81,461.23 L401.03,458.85 L401.26,456.47 L401.52,454.09 L401.79,451.72 L402.08,449.34 L402.39,446.97 L402.71,444.60 L403.05,442.24 L403.41,439.87 L403.78,437.51 L404.17,435.14 L404.56,432.78 L404.97,430.42 L405.39,428.07 L405.83,425.71 L406.27,423.35 L406.73,421.00 L407.20,418.65 L407.69,416.30 L408.18,413.95 L408.69,411.61 L409.22,409.27 L409.75,406.93 L410.31,404.59 L410.87,402.26 L411.46,399.93 L412.05,397.61 L412.66,395.29 L413.29,392.98 L413.93,390.67 L414.60,388.36 L415.29,386.07 L416.01,383.79 L416.77,381.53 L417.57,379.28 L418.42,377.06 L419.32,374.86 L420.28,372.69 L421.31,370.54 L422.40,368.43 L423.55,366.34 L424.75,364.28 L425.99,362.24 L427.28,360.22 L428.59,358.21 L429.93,356.22 L431.28,354.24 L432.65,352.26 L434.03,350.29 L435.42,348.33 L436.83,346.39 L438.26,344.46 L439.71,342.55 L441.19,340.66 L442.69,338.79 L444.21,336.95 L445.76,335.13 L447.34,333.34 L448.94,331.57 L450.57,329.82 L452.22,328.09 L453.89,326.38 L455.57,324.69 L457.27,323.00 L458.98,321.33 L460.70,319.67 L462.44,318.02 L464.17,316.37 L465.92,314.73 L467.67,313.09 L469.43,311.46 L471.19,309.84 L472.97,308.24 L474.76,306.64 L476.56,305.06 L478.37,303.49 L480.19,301.93 L482.02,300.40 L483.87,298.88 L485.74,297.38 L487.61,295.89 L489.50,294.42 L491.40,292.97 L493.30,291.52 L495.21,290.08 L497.13,288.65 L499.05,287.22 L500.97,285.79 L502.89,284.36 L504.81,282.92 L506.72,281.48 L508.63,280.03" stroke="#14f082" stroke-width="3.9"/>
</g>
<line x1="155.1" y1="332.99" x2="398" y2="419.37" stroke="#e60000" stroke-width="5.1" stroke-dasharray="6.4 6.867"/>
<path d="M292.54,342.64 L290.78,343.22 L289.03,343.84 L287.30,344.49 L285.58,345.18 L283.87,345.90 L282.19,346.67 L280.53,347.48 L278.89,348.33 L277.28,349.22 L275.70,350.16 L274.15,351.14 L272.63,352.16 L271.14,353.23 L269.69,354.34 L268.28,355.50 L266.91,356.70 L265.58,357.94 L264.28,359.23 L263.02,360.55 L261.79,361.90 L260.60,363.30 L259.44,364.72 L258.32,366.18 L257.23,367.66 L256.18,369.17 L255.16,370.71 L254.17,372.27 L253.21,373.85 L252.28,375.45 L251.38,377.07 L250.51,378.70 L249.67,380.35 L248.86,382.02 L248.08,383.69 L247.33,385.37 L246.61,387.07 L245.92,388.78 L245.26,390.50 L244.64,392.23 L244.04,393.97 L243.48,395.71 L242.95,397.47 L242.45,399.24 L241.99,401.01 L241.56,402.79 L241.16,404.58 L240.80,406.37 L240.48,408.17 L240.19,409.98" fill="none" stroke="#000" stroke-width="2.7"/>
<path d="M237.3,421.2 L232.4,404 L240.7,408.4 L247.2,406 Z" fill="#000"/>
<rect x="80.4" y="285.8" width="438.80000000000007" height="188.39999999999998" fill="none" stroke="#000" stroke-width="1.6"/>
<line x1="138.5" y1="474.2" x2="138.5" y2="469.7" stroke="#000" stroke-width="1.2"/>
<line x1="203.1" y1="474.2" x2="203.1" y2="469.7" stroke="#000" stroke-width="1.2"/>
<line x1="267.7" y1="474.2" x2="267.7" y2="469.7" stroke="#000" stroke-width="1.2"/>
<line x1="332.3" y1="474.2" x2="332.3" y2="469.7" stroke="#000" stroke-width="1.2"/>
<line x1="396.9" y1="474.2" x2="396.9" y2="469.7" stroke="#000" stroke-width="1.2"/>
<line x1="461.5" y1="474.2" x2="461.5" y2="469.7" stroke="#000" stroke-width="1.2"/>
<line x1="80.4" y1="300.5" x2="85.4" y2="300.5" stroke="#000" stroke-width="1.2"/>
<line x1="519.2" y1="300.5" x2="514.2" y2="300.5" stroke="#000" stroke-width="1.2"/>
<line x1="80.4" y1="385.3" x2="85.4" y2="385.3" stroke="#000" stroke-width="1.2"/>
<line x1="519.2" y1="385.3" x2="514.2" y2="385.3" stroke="#000" stroke-width="1.2"/>
<line x1="80.4" y1="359.8" x2="82.9" y2="359.8" stroke="#000" stroke-width="1.2"/>
<line x1="519.2" y1="359.8" x2="516.7" y2="359.8" stroke="#000" stroke-width="1.2"/>
<line x1="80.4" y1="344.8" x2="82.9" y2="344.8" stroke="#000" stroke-width="1.2"/>
<line x1="519.2" y1="344.8" x2="516.7" y2="344.8" stroke="#000" stroke-width="1.2"/>
<line x1="80.4" y1="334.2" x2="82.9" y2="334.2" stroke="#000" stroke-width="1.2"/>
<line x1="519.2" y1="334.2" x2="516.7" y2="334.2" stroke="#000" stroke-width="1.2"/>
<line x1="80.4" y1="326.0" x2="82.9" y2="326.0" stroke="#000" stroke-width="1.2"/>
<line x1="519.2" y1="326.0" x2="516.7" y2="326.0" stroke="#000" stroke-width="1.2"/>
<line x1="80.4" y1="319.3" x2="82.9" y2="319.3" stroke="#000" stroke-width="1.2"/>
<line x1="519.2" y1="319.3" x2="516.7" y2="319.3" stroke="#000" stroke-width="1.2"/>
<line x1="80.4" y1="313.6" x2="82.9" y2="313.6" stroke="#000" stroke-width="1.2"/>
<line x1="519.2" y1="313.6" x2="516.7" y2="313.6" stroke="#000" stroke-width="1.2"/>
<line x1="80.4" y1="308.7" x2="82.9" y2="308.7" stroke="#000" stroke-width="1.2"/>
<line x1="519.2" y1="308.7" x2="516.7" y2="308.7" stroke="#000" stroke-width="1.2"/>
<line x1="80.4" y1="304.4" x2="82.9" y2="304.4" stroke="#000" stroke-width="1.2"/>
<line x1="519.2" y1="304.4" x2="516.7" y2="304.4" stroke="#000" stroke-width="1.2"/>
<line x1="80.4" y1="470.1" x2="85.4" y2="470.1" stroke="#000" stroke-width="1.2"/>
<line x1="519.2" y1="470.1" x2="514.2" y2="470.1" stroke="#000" stroke-width="1.2"/>
<line x1="80.4" y1="444.6" x2="82.9" y2="444.6" stroke="#000" stroke-width="1.2"/>
<line x1="519.2" y1="444.6" x2="516.7" y2="444.6" stroke="#000" stroke-width="1.2"/>
<line x1="80.4" y1="429.6" x2="82.9" y2="429.6" stroke="#000" stroke-width="1.2"/>
<line x1="519.2" y1="429.6" x2="516.7" y2="429.6" stroke="#000" stroke-width="1.2"/>
<line x1="80.4" y1="419.0" x2="82.9" y2="419.0" stroke="#000" stroke-width="1.2"/>
<line x1="519.2" y1="419.0" x2="516.7" y2="419.0" stroke="#000" stroke-width="1.2"/>
<line x1="80.4" y1="410.8" x2="82.9" y2="410.8" stroke="#000" stroke-width="1.2"/>
<line x1="519.2" y1="410.8" x2="516.7" y2="410.8" stroke="#000" stroke-width="1.2"/>
<line x1="80.4" y1="404.1" x2="82.9" y2="404.1" stroke="#000" stroke-width="1.2"/>
<line x1="519.2" y1="404.1" x2="516.7" y2="404.1" stroke="#000" stroke-width="1.2"/>
<line x1="80.4" y1="398.4" x2="82.9" y2="398.4" stroke="#000" stroke-width="1.2"/>
<line x1="519.2" y1="398.4" x2="516.7" y2="398.4" stroke="#000" stroke-width="1.2"/>
<line x1="80.4" y1="393.5" x2="82.9" y2="393.5" stroke="#000" stroke-width="1.2"/>
<line x1="519.2" y1="393.5" x2="516.7" y2="393.5" stroke="#000" stroke-width="1.2"/>
<line x1="80.4" y1="389.2" x2="82.9" y2="389.2" stroke="#000" stroke-width="1.2"/>
<line x1="519.2" y1="389.2" x2="516.7" y2="389.2" stroke="#000" stroke-width="1.2"/>
<text x="7.4" y="300.2" font-size="20" fill="#000" textLength="25.4" lengthAdjust="spacingAndGlyphs" font-weight="bold" stroke="#000" stroke-width="0.2" ><tspan font-size="17.5">(</tspan>b<tspan font-size="17.5">)</tspan></text>
<text x="40.4" y="308.1" font-size="20.5" fill="#000" textLength="18.4" lengthAdjust="spacingAndGlyphs" stroke="#000" stroke-width="0.5" >10</text>
<text x="59.4" y="298.3" font-size="15.5" fill="#000" textLength="12.4" lengthAdjust="spacingAndGlyphs" stroke="#000" stroke-width="0.5" >-3</text>
<text x="40.4" y="392.8" font-size="20.5" fill="#000" textLength="18.4" lengthAdjust="spacingAndGlyphs" stroke="#000" stroke-width="0.5" >10</text>
<text x="59.4" y="383.0" font-size="15.5" fill="#000" textLength="12.4" lengthAdjust="spacingAndGlyphs" stroke="#000" stroke-width="0.5" >-4</text>
<text x="40.4" y="477.6" font-size="20.5" fill="#000" textLength="18.4" lengthAdjust="spacingAndGlyphs" stroke="#000" stroke-width="0.5" >10</text>
<text x="59.4" y="467.8" font-size="15.5" fill="#000" textLength="12.4" lengthAdjust="spacingAndGlyphs" stroke="#000" stroke-width="0.5" >-5</text>
<text x="138.49999999999994" y="499.2" font-size="20.5" fill="#000" text-anchor="middle" textLength="31" lengthAdjust="spacingAndGlyphs" stroke="#000" stroke-width="0.5" >-0.4</text>
<text x="203.1" y="499.2" font-size="20.5" fill="#000" text-anchor="middle" textLength="31" lengthAdjust="spacingAndGlyphs" stroke="#000" stroke-width="0.5" >-0.3</text>
<text x="267.69999999999993" y="499.2" font-size="20.5" fill="#000" text-anchor="middle" textLength="31" lengthAdjust="spacingAndGlyphs" stroke="#000" stroke-width="0.5" >-0.2</text>
<text x="332.29999999999995" y="499.2" font-size="20.5" fill="#000" text-anchor="middle" textLength="31" lengthAdjust="spacingAndGlyphs" stroke="#000" stroke-width="0.5" >-0.1</text>
<text x="396.9" y="499.2" font-size="20.5" fill="#000" text-anchor="middle" textLength="9.4" lengthAdjust="spacingAndGlyphs" stroke="#000" stroke-width="0.5" >0</text>
<text x="461.5" y="499.2" font-size="20.5" fill="#000" text-anchor="middle" textLength="24.5" lengthAdjust="spacingAndGlyphs" stroke="#000" stroke-width="0.5" >0.1</text>
<text x="265" y="520.5" font-size="21" fill="#000" textLength="15.5" lengthAdjust="spacingAndGlyphs" stroke="#000" stroke-width="0.5" >V</text>
<text x="281" y="527" font-size="15.5" fill="#000" textLength="20" lengthAdjust="spacingAndGlyphs" stroke="#000" stroke-width="0.3" >np</text>
<text x="307.5" y="520.5" font-size="21" fill="#000" textLength="27.5" lengthAdjust="spacingAndGlyphs" stroke="#000" stroke-width="0.5" >[V]</text>
<text transform="translate(20.5,448.7) rotate(-90)" font-size="21" stroke="#000" stroke-width="0.45">J<tspan font-size="14.5" dy="4.5">BTBT</tspan><tspan dy="-4.5" dx="1.8">[</tspan><tspan dx="1.7">A</tspan><tspan dx="3">/</tspan><tspan dx="6.5">μ</tspan><tspan dx="3.3">m</tspan><tspan font-size="14.5" dy="-8" dx="-0.5">2</tspan><tspan dy="8" dx="2.3">]</tspan></text>
<text x="199.9" y="327.3" font-size="20" fill="#000" textLength="221.8" lengthAdjust="spacingAndGlyphs" stroke="#000" stroke-width="0.5" >T = 300, 200 ,100, 50, 20 K</text>
<text x="180" y="438.7" font-size="19" fill="#000" textLength="114.3" lengthAdjust="spacingAndGlyphs" stroke="#000" stroke-width="0.5" >forward bias:</text>
<text x="179.3" y="458.2" font-size="19" fill="#000" textLength="172.2" lengthAdjust="spacingAndGlyphs" stroke="#000" stroke-width="0.5" >large T-dependence</text></svg></body></html>
